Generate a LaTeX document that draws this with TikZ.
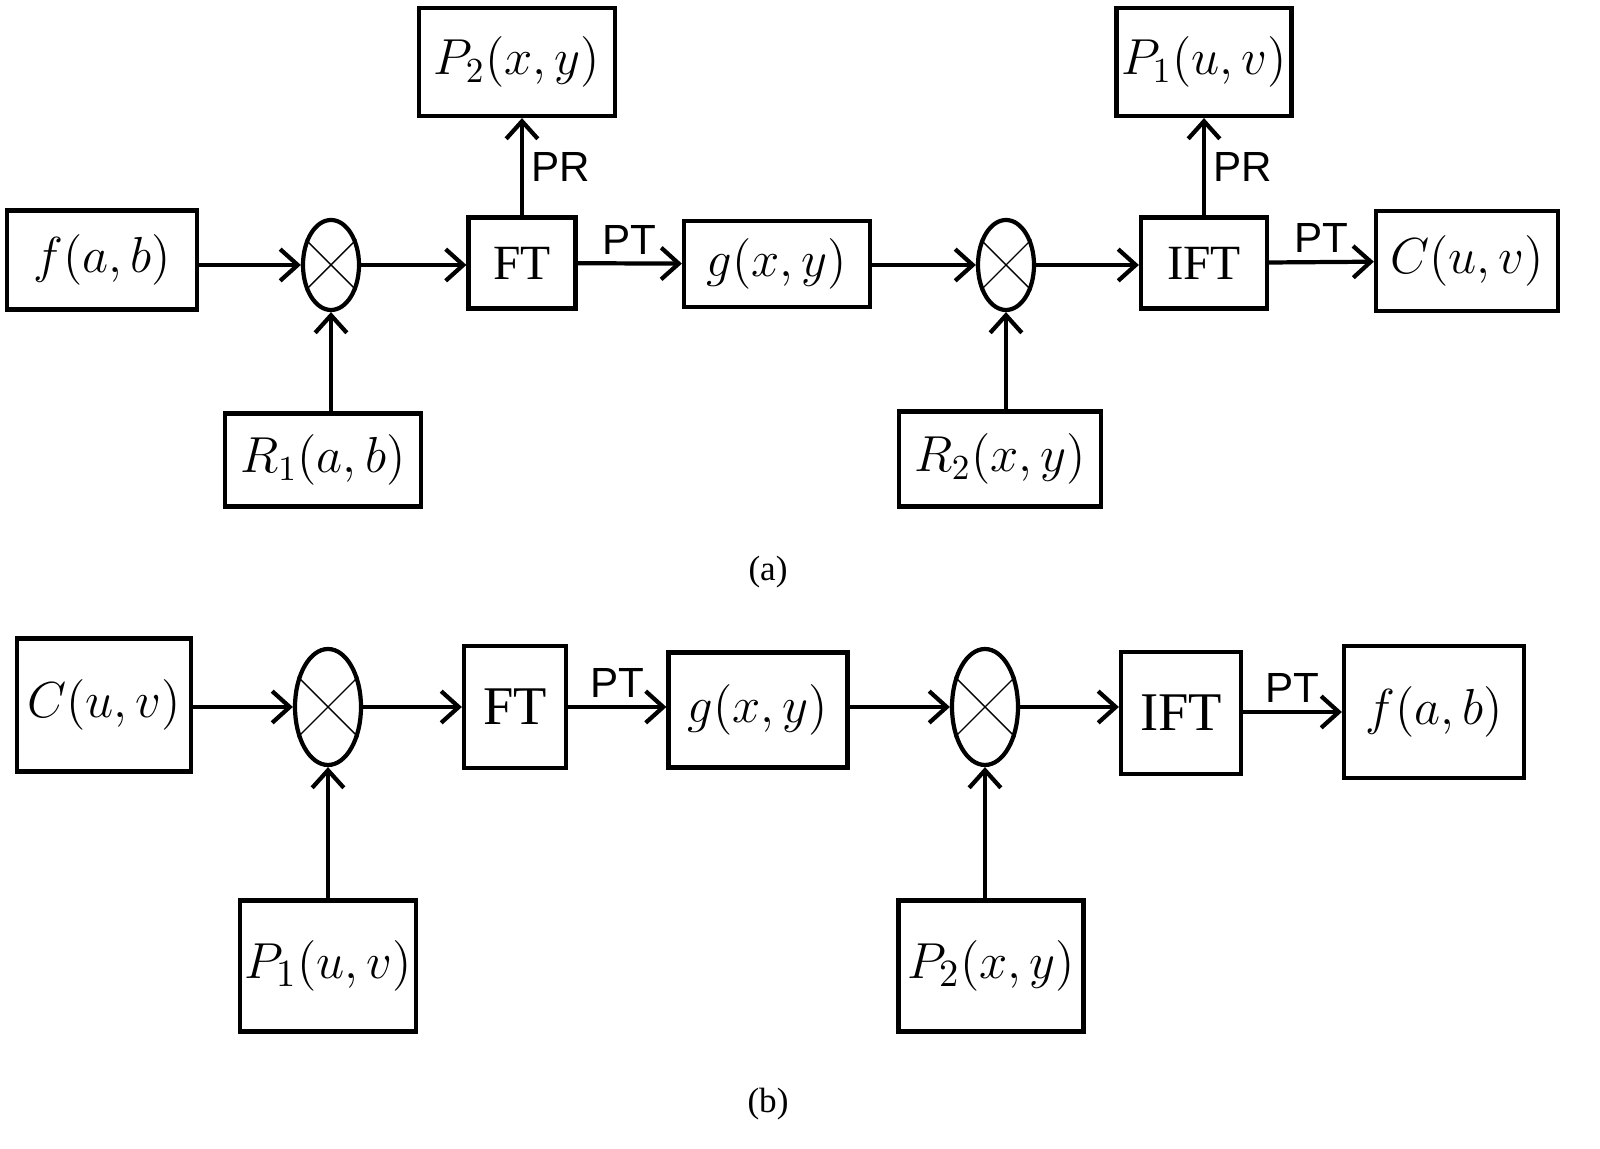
\documentclass[tikz,border=0pt]{standalone}
\usepackage{amsmath}
\usepackage{fontspec}
\setmainfont{Liberation Serif}
\newfontfamily\lbl{Liberation Sans}
\usetikzlibrary{shapes.geometric,arrows.meta}
\tikzset{
  blk/.style={draw,line width=1.2pt,inner sep=0pt,font=\fontsize{14}{17}\selectfont},
  blkb/.style={blk,font=\fontsize{15.5}{18}\selectfont},
  mix/.style={draw,ellipse,line width=1.2pt,inner sep=0pt,
    append after command={(\tikzlastnode.45) edge[-] (\tikzlastnode.225)
      (\tikzlastnode.135) edge[-] (\tikzlastnode.315)}},
  sig/.style={line width=1.2pt,-{Straight Barb[length=5pt,width=9pt]}},
  lab/.style={font=\lbl\fontsize{12}{14}\selectfont,inner sep=2pt}
}
\begin{document}
\begin{tikzpicture}[x=0.1mm,y=-0.1mm]
% (a)
\node[blk,minimum width=19mm,minimum height=9.9mm] (f1) at (102,260) {$f(a,b)$};
\node[mix,minimum width=5.6mm,minimum height=9mm] (m1) at (331,265) {};
\node[blk,minimum width=10.7mm,minimum height=9.1mm] (ft1) at (522,263) {FT};
\node[blk,minimum width=19.6mm,minimum height=10.8mm] (p2a) at (517,62) {$P_2(x,y)$};
\node[blk,minimum width=18.6mm,minimum height=8.6mm] (g1) at (777,264) {$g(x,y)$};
\node[mix,minimum width=5.6mm,minimum height=9mm] (m2) at (1006,265) {};
\node[blk,minimum width=12.6mm,minimum height=9.1mm] (ift1) at (1204,263) {IFT};
\node[blk,minimum width=17.5mm,minimum height=10.8mm] (p1a) at (1204,62) {$P_1(u,v)$};
\node[blk,minimum width=18.2mm,minimum height=10mm] (c1) at (1467,261) {$C(u,v)$};
\node[blk,minimum width=19.6mm,minimum height=9.3mm] (r1) at (323,460) {$R_1(a,b)$};
\node[blk,minimum width=20.2mm,minimum height=9.5mm] (r2) at (1000,459) {$R_2(x,y)$};
\node (capa) at (768,572) {(a)};
\draw[sig] (f1.east|-m1) -- (m1);
\draw[sig] (m1) -- (ft1.west|-m1);
\draw[sig] (ft1) -- node[lab,above]{PT} (g1);
\draw[sig] (g1.east|-m2) -- (m2);
\draw[sig] (m2) -- (ift1.west|-m2);
\draw[sig] (ift1) -- node[lab,above]{PT} (c1);
\draw[sig] (ft1) -- node[lab,right]{PR} (p2a.south-|ft1);
\draw[sig] (ift1) -- node[lab,right]{PR} (p1a);
\draw[sig] (r1.north-|m1) -- (m1);
\draw[sig] (r2.north-|m2) -- (m2);
% (b)
\node[blkb,minimum width=17.4mm,minimum height=13.3mm] (c2) at (104,705) {$C(u,v)$};
\node[mix,minimum width=6.6mm,minimum height=11.6mm] (m3) at (328,707) {};
\node[blkb,minimum width=10.2mm,minimum height=12.2mm] (ft2) at (515,707) {FT};
\node[blkb,minimum width=17.9mm,minimum height=11.5mm] (g2) at (758,710) {$g(x,y)$};
\node[mix,minimum width=6.6mm,minimum height=11.6mm] (m4) at (985,707) {};
\node[blkb,minimum width=12mm,minimum height=12.2mm] (ift2) at (1181,713) {IFT};
\node[blkb,minimum width=18mm,minimum height=13.2mm] (f2) at (1434,712) {$f(a,b)$};
\node[blkb,minimum width=17.6mm,minimum height=13.1mm] (p1b) at (328,966) {$P_1(u,v)$};
\node[blkb,minimum width=18.5mm,minimum height=13.1mm] (p2b) at (991,966) {$P_2(x,y)$};
\node (capb) at (768,1104) {(b)};
\draw[sig] (c2.east|-m3) -- (m3);
\draw[sig] (m3) -- (ft2.west|-m3);
\draw[sig] (ft2) -- node[lab,above]{PT} (g2.west|-ft2);
\draw[sig] (g2.east|-m4) -- (m4);
\draw[sig] (m4) -- (ift2.west|-m4);
\draw[sig] (ift2.east|-f2.west) -- node[lab,above]{PT} (f2.west);
\draw[sig] (p1b.north-|m3) -- (m3);
\draw[sig] (p2b.north-|m4) -- (m4);
\pgfresetboundingbox
\useasboundingbox (0,0) rectangle (1600,1149);
\end{tikzpicture}
\end{document}
